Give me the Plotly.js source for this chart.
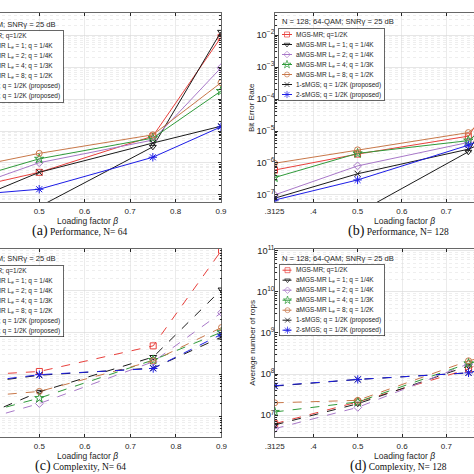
<!DOCTYPE html>
<html><head><meta charset="utf-8">
<script src="https://cdn.plot.ly/plotly-3.0.1.min.js"></script>
<style>
html,body{margin:0;padding:0;overflow:hidden;width:474px;height:474px;background:#fff}
#wrap{position:absolute;left:-100px;top:0;width:660px;height:474px}
</style></head>
<body><div id="wrap"></div>
<script>
// ---------------- data ----------------
const loadingFactor = [0.3125, 0.5, 0.75, 0.9];
const xTickVals = [0.3125, 0.4, 0.5, 0.6, 0.7, 0.8, 0.9];
const xTickText = ['.3125', '.4', '0.5', '0.6', '0.7', '0.8', '0.9'];

const seriesNames = [
  'MGS-MR; q=1/2K',
  'aMGS-MR L<sub>e</sub> = 1; q = 1/4K',
  'aMGS-MR L<sub>e</sub> = 2; q = 1/4K',
  'aMGS-MR L<sub>e</sub> = 4; q = 1/3K',
  'aMGS-MR L<sub>e</sub> = 8; q = 1/2K',
  '1-sMGS; q = 1/2K (proposed)',
  '2-sMGS; q = 1/2K (proposed)'
];

// (a) Bit error rate, N = 64
const berN64_MGSMR  = [1.26e-7, 5.1e-7, 6.9e-6, 8.5e-3];
const berN64_aLe1   = [3.0e-9, 4.3e-8, 3.2e-6, 1.26e-2];
const berN64_aLe2   = [1.17e-7, 1.02e-6, 5.2e-6, 9.5e-4];
const berN64_aLe4   = [2.24e-7, 1.35e-6, 6.0e-6, 1.78e-4];
const berN64_aLe8   = [5.75e-7, 2.0e-6, 7.6e-6, 3.24e-4];
const berN64_1sMGS  = [4.0e-8, 5.1e-7, 4.2e-6, 1.41e-5];
const berN64_2sMGS  = [9.1e-8, 1.51e-7, 1.51e-6, 1.35e-5];

// (b) Bit error rate, N = 128
const berN128_MGSMR = [6.0e-7, 1.9e-6, 6.9e-6, 7.9e-3];
const berN128_aLe1  = [1.0e-9, 2.75e-8, 2.24e-6, 1.12e-2];
const berN128_aLe2  = [1.0e-7, 8.1e-7, 4.4e-6, 1.26e-3];
const berN128_aLe4  = [3.5e-7, 2.0e-6, 5.0e-6, 2.0e-4];
const berN128_aLe8  = [9.8e-7, 2.57e-6, 8.9e-6, 4.0e-4];
const berN128_1sMGS = [7.9e-8, 4.6e-7, 2.7e-6, 2.0e-5];
const berN128_2sMGS = [6.9e-8, 2.95e-7, 3.6e-6, 2.5e-5];

// (c) Average number of operations, N = 64
const opsN64_MGSMR  = [8.9e6, 1.17e7, 4.8e7, 9.3e9];
const opsN64_aLe1   = [5.2e5, 3.8e6, 2.6e7, 1.07e9];
const opsN64_aLe2   = [5.2e5, 2.0e6, 2.0e7, 3.0e8];
const opsN64_aLe4   = [7.6e5, 2.7e6, 2.2e7, 1.02e8];
const opsN64_aLe8   = [2.6e6, 3.9e6, 2.1e7, 1.32e8];
const opsN64_1sMGS  = [5.2e6, 9.5e6, 1.41e7, 7.8e7];
const opsN64_2sMGS  = [5.5e6, 9.8e6, 1.38e7, 9.1e7];

// (d) Average number of operations, N = 128
const opsN128_MGSMR = [6.2e6, 2.1e7, 1.32e8, 1.0e9];
const opsN128_aLe1  = [5.8e6, 1.9e7, 1.58e8, 1.26e9];
const opsN128_aLe2  = [4.7e6, 1.55e7, 1.78e8, 4.0e8];
const opsN128_aLe4  = [1.2e7, 2.1e7, 1.82e8, 4.0e8];
const opsN128_aLe8  = [2.0e7, 2.3e7, 2.1e8, 5.0e8];
const opsN128_1sMGS = [5.1e7, 7.4e7, 1.07e8, 2.5e8];
const opsN128_2sMGS = [5.2e7, 7.4e7, 1.07e8, 2.8e8];

// ---------------- styles ----------------
const colors  = ['#e8403c', '#1a1a1a', '#a878c8', '#2f9a3a', '#c8784a', '#1a1a1a', '#1c1ce6'];
const symbols = ['square-open', 'triangle-down-open', 'diamond-open', 'star-open', 'circle-open', 'x-thin-open', 'asterisk-open'];
const msizes  = [6, 6, 6, 7, 6, 6, 7];

// page geometry (window pixels; div is shifted left by OFF)
const W = 660, H = 474, OFF = 100;
const px = v => (v + OFF) / W;
const py = v => 1 - v / H;

const panels = [
  {series:[berN64_MGSMR,berN64_aLe1,berN64_aLe2,berN64_aLe4,berN64_aLe8,berN64_1sMGS,berN64_2sMGS],
   box:[-46,221,13,202], yr:[-7.22,-1.31], dash:'solid', ytitle:'Bit Error Rate',
   info:'N = 64; 64-QAM; SNRγ = 25 dB', infoPos:[58.3,24,'right'], leg:[-42,31.2],
   cap:['(a)','Performance, N= 64'], capX:80},
  {series:[berN128_MGSMR,berN128_aLe1,berN128_aLe2,berN128_aLe4,berN128_aLe8,berN128_1sMGS,berN128_2sMGS],
   box:[274.5,534.8,13,202], yr:[-7.22,-1.31], dash:'solid', ytitle:'Bit Error Rate',
   info:'N = 128; 64-QAM; SNRγ = 25 dB', infoPos:[280.3,21.7,'left'], leg:[279,29.3],
   cap:['(b)','Performance, N= 128'], capX:398},
  {series:[opsN64_MGSMR,opsN64_aLe1,opsN64_aLe2,opsN64_aLe4,opsN64_aLe8,opsN64_1sMGS,opsN64_2sMGS],
   box:[-46,221.5,249,437], yr:[5.5,10], dash:'dash', ytitle:'Average number of rops',
   info:'N = 64; 64-QAM; SNRγ = 25 dB', infoPos:[58.3,258.7,'right'], leg:[-42,266],
   cap:['(c)','Complexity, N= 64'], capX:80},
  {series:[opsN128_MGSMR,opsN128_aLe1,opsN128_aLe2,opsN128_aLe4,opsN128_aLe8,opsN128_1sMGS,opsN128_2sMGS],
   box:[274.7,535,249,437], yr:[6.47,11.04], dash:'dash', ytitle:'Average number of rops',
   info:'N = 128; 64-QAM; SNRγ = 25 dB', infoPos:[280.3,258.7,'left'], leg:[279.5,265],
   cap:['(d)','Complexity, N= 128'], capX:398}
];

const FONT = 'Liberation Sans, Arial, sans-serif';
const SERIF = 'Liberation Serif, Times New Roman, serif';
const AX = '#262626';
const LEGW = 105, LEGH = 70.5;

const data = [];
const layout = {
  width: W, height: H, margin:{l:0,r:0,t:0,b:0, autoexpand:false},
  paper_bgcolor:'white', plot_bgcolor:'#ffffff',
  showlegend:false, font:{family:FONT, color:AX},
  annotations:[]
};

panels.forEach((p, k) => {
  const n = k + 1, sx = n === 1 ? '' : String(n);
  const xa = 'x' + sx, ya = 'y' + sx;
  layout['xaxis' + sx] = {
    domain:[px(p.box[0]), px(p.box[1])], anchor:ya, range:[0.3125, 0.9],
    tickmode:'array', tickvals:xTickVals, ticktext:xTickText,
    ticks:'inside', ticklen:3, tickcolor:AX, showline:true, mirror:'allticks',
    linecolor:AX, linewidth:0.7, showgrid:true, gridcolor:'#dedede', gridwidth:0.6,
    zeroline:false, tickfont:{size:8, family:FONT, color:AX}, ticklabelstandoff:2
  };
  layout['yaxis' + sx] = {
    domain:[py(p.box[3]), py(p.box[2])], anchor:xa, type:'log', range:p.yr, dtick:1,
    exponentformat:'power', ticks:'inside', ticklen:3, tickcolor:AX,
    showline:true, mirror:'allticks', linecolor:AX, linewidth:0.7,
    showgrid:true, gridcolor:'#d6d6d6', gridwidth:0.6, zeroline:false,
    minor:{ticks:'inside', ticklen:2, tickcolor:AX, showgrid:true, gridcolor:'#e2e2e2', griddash:'dot'},
    tickfont:{size:7.5, family:FONT, color:AX}, ticklabelstandoff:-2
  };
  p.series.forEach((vals, i) => {
    data.push({
      x: loadingFactor, y: vals, xaxis:xa, yaxis:ya, type:'scatter', mode:'lines+markers',
      name: seriesNames[i], cliponaxis:true,
      line:{color:colors[i], width:1, dash:p.dash},
      marker:{symbol:symbols[i], size:msizes[i], color:colors[i], line:{color:colors[i], width:1}}
    });
  });

  // axis titles
  layout.annotations.push({
    xref:'paper', yref:'paper', x:px((p.box[0] + p.box[1]) / 2), y:py(p.box[3] + 18.5),
    xanchor:'center', yanchor:'middle', showarrow:false,
    text:'Loading factor <i>β</i>', font:{size:8.5, family:FONT, color:AX}
  });
  layout.annotations.push({
    xref:'paper', yref:'paper', x:px(p.box[0] - 23), y:py((p.box[2] + p.box[3]) / 2),
    xanchor:'center', yanchor:'middle', showarrow:false, textangle:-90,
    text:p.ytitle, font:{size:8, family:FONT, color:AX}
  });

  // custom compact legend, drawn in its own small subplot
  const lx = 'x' + (n + 4), ly = 'y' + (n + 4);
  layout['xaxis' + (n + 4)] = {
    domain:[px(p.leg[0]), px(p.leg[0] + LEGW)], anchor:ly, range:[0, LEGW],
    showline:true, mirror:true, linecolor:AX, linewidth:0.7, showgrid:false,
    zeroline:false, showticklabels:false, ticks:'', fixedrange:true
  };
  layout['yaxis' + (n + 4)] = {
    domain:[py(p.leg[1] + LEGH), py(p.leg[1])], anchor:lx, range:[LEGH, 0],
    showline:true, mirror:true, linecolor:AX, linewidth:0.7, showgrid:false,
    zeroline:false, showticklabels:false, ticks:'', fixedrange:true
  };
  seriesNames.forEach((nm, i) => {
    const row = 5.2 + 10 * i;
    data.push({
      x:[3, 8, 13], y:[row, row, row], xaxis:lx, yaxis:ly, type:'scatter', mode:'lines+markers',
      hoverinfo:'skip', line:{color:colors[i], width:1, dash:p.dash === 'dash' ? 'dash' : 'solid'},
      marker:{symbol:symbols[i], size:[0, msizes[i] - 1, 0], color:colors[i], line:{color:colors[i], width:1}}
    });
    layout.annotations.push({
      xref:lx, yref:ly, x:15, y:row, xanchor:'left', yanchor:'middle', showarrow:false,
      text:nm, font:{size:6.5, family:FONT, color:AX}
    });
  });

  layout.annotations.push({
    xref:'paper', yref:'paper', x:px(p.infoPos[0]), y:py(p.infoPos[1]),
    xanchor:p.infoPos[2], yanchor:'middle', showarrow:false, text:p.info,
    font:{size:7.6, family:FONT, color:AX}
  });
  layout.annotations.push({
    xref:'paper', yref:'paper', x:px(p.capX), y:py(p.box[3] + 29), xanchor:'center', yanchor:'middle',
    showarrow:false,
    text:'<span style="font-size:14px">' + p.cap[0] + '</span> ' + p.cap[1],
    font:{size:9.5, family:SERIF, color:'#111'}
  });
});

Plotly.newPlot('wrap', data, layout, {staticPlot:true, displayModeBar:false});
</script>
</body></html>
